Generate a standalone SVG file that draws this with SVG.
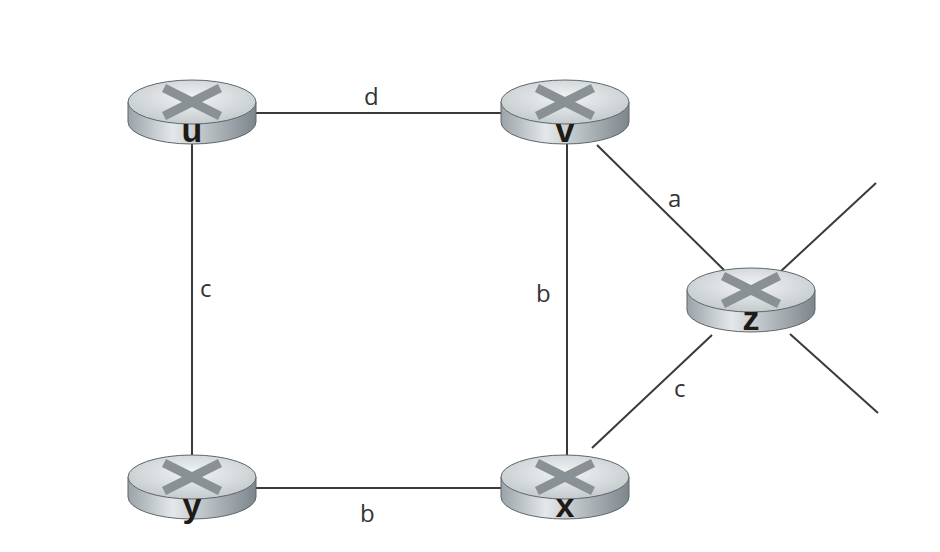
<svg xmlns="http://www.w3.org/2000/svg" width="940" height="552" viewBox="0 0 940 552">
<defs>
<linearGradient id="side" x1="0" x2="1" y1="0" y2="0">
<stop offset="0" stop-color="#9aa3a8"/><stop offset="0.35" stop-color="#e4e8ea"/><stop offset="1" stop-color="#7d868c"/>
</linearGradient>
<radialGradient id="top" cx="0.5" cy="0.4" r="0.6">
<stop offset="0" stop-color="#f2f4f5"/><stop offset="1" stop-color="#c4cacd"/>
</radialGradient>
<g id="router">
<path d="M-64,-8 L-64,12 A64,22 0 0 0 64,12 L64,-8 Z" fill="url(#side)" stroke="#5d666b" stroke-width="1"/>
<ellipse cx="0" cy="-8" rx="64" ry="22" fill="url(#top)" stroke="#5d666b" stroke-width="1"/>
<path d="M-28,-22 L28,6 M28,-22 L-28,6" stroke="#8a9195" stroke-width="9" stroke-linecap="butt"/>
</g>
<style>
.l{stroke:#3a3a3a;stroke-width:2;fill:none}
.e{font-family:"Open Sans","Liberation Sans",sans-serif;font-size:24px;fill:#333}
.n{font-family:"Liberation Sans",sans-serif;font-size:34px;font-weight:bold;fill:#1e1a15;text-anchor:middle}
</style>
</defs>
<rect width="940" height="552" fill="#fff"/>
<g id="connectors">
<line class="l" x1="256" y1="113" x2="502" y2="113"/>
<line class="l" x1="192" y1="140" x2="192" y2="460"/>
<line class="l" x1="567" y1="140" x2="567" y2="460"/>
<line class="l" x1="256" y1="488" x2="502" y2="488"/>
<line class="l" x1="597" y1="145" x2="724" y2="270"/>
<line class="l" x1="712" y1="335" x2="592" y2="448"/>
<line class="l" x1="780" y1="272" x2="876" y2="183"/>
<line class="l" x1="790" y1="334" x2="878" y2="413"/>
<text class="e" x="364" y="105">d</text>
<text class="e" x="200" y="297">c</text>
<text class="e" x="536" y="302">b</text>
<text class="e" x="668" y="207">a</text>
<text class="e" x="674" y="397">c</text>
<text class="e" x="360" y="522">b</text>
</g>
<g id="u"><use href="#router" x="192" y="110"/><text class="n" x="192" y="142">u</text></g>
<g id="v"><use href="#router" x="565" y="110"/><text class="n" x="565" y="142">v</text></g>
<g id="y"><use href="#router" x="192" y="485"/><text class="n" x="192" y="517">y</text></g>
<g id="x"><use href="#router" x="565" y="485"/><text class="n" x="565" y="517">x</text></g>
<g id="z"><use href="#router" x="751" y="298"/><text class="n" x="751" y="330">z</text></g>
</svg>
